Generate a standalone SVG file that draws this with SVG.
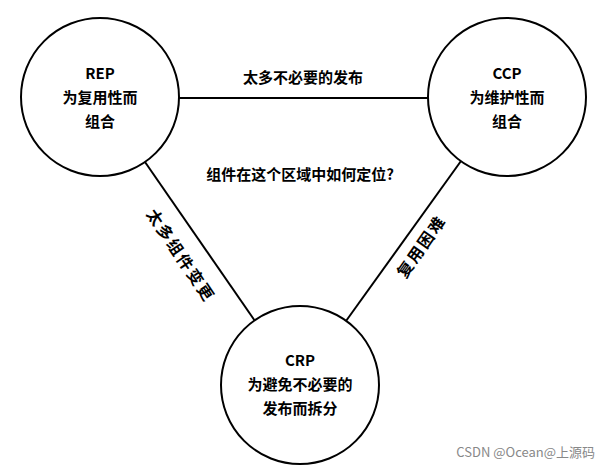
<svg xmlns="http://www.w3.org/2000/svg" width="612" height="473" viewBox="0 0 612 473">
<style>
.n{fill:#fff;stroke:#000;stroke-width:2}
.c{stroke:#000;stroke-width:2;fill:none}
text{font-family:"Noto Sans CJK SC","Liberation Sans",sans-serif;font-size:15px;font-weight:bold;fill:#000;text-anchor:middle}
.r{font-size:16px;letter-spacing:2px}
</style>
<rect width="612" height="473" fill="#fff"/>
<g id="connectors">
<line class="c" x1="179" y1="98" x2="428" y2="98"/>
<line class="c" x1="145" y1="162" x2="255" y2="321"/>
<line class="c" x1="461" y1="161" x2="346" y2="321"/>
</g>
<g id="rep"><circle class="n" cx="100" cy="97" r="79"/><text x="100" y="79">REP</text><text x="100" y="103">为复用性而</text><text x="100" y="127">组合</text></g>
<g id="ccp"><circle class="n" cx="507" cy="97" r="79"/><text x="507" y="79">CCP</text><text x="507" y="103">为维护性而</text><text x="507" y="127">组合</text></g>
<g id="crp"><circle class="n" cx="300" cy="385" r="79"/><text x="300" y="366">CRP</text><text x="300" y="390">为避免不必要的</text><text x="300" y="414">发布而拆分</text></g>
<g id="labels">
<text x="303" y="83">太多不必要的发布</text>
<text x="300" y="180">组件在这个区域中如何定位?</text>
<text class="r" transform="translate(180,256) rotate(56)" y="5">太多组件变更</text>
<text class="r" transform="translate(422,247) rotate(-55)" y="5">复用困难</text>
</g>
<text x="595" y="457" style="font-size:13px;font-weight:normal;fill:#888;text-anchor:end">CSDN @Ocean@上源码</text>
</svg>
